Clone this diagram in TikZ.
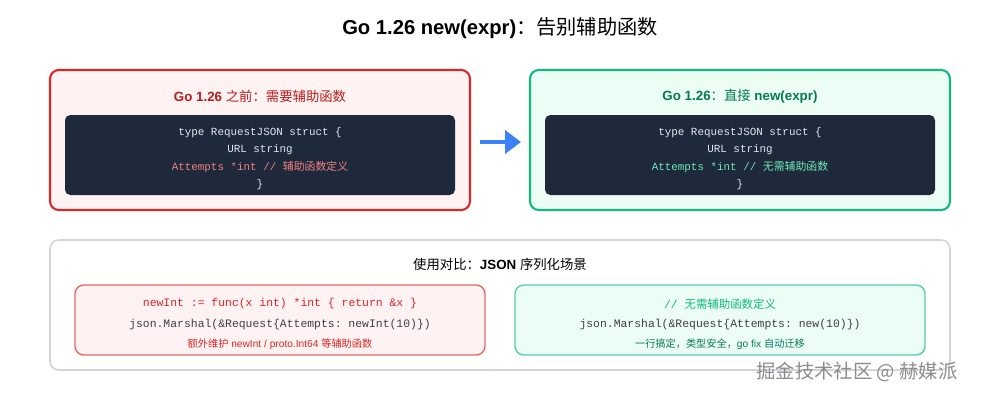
\documentclass[tikz,border=0pt]{standalone}
\usepackage{fontspec}
\setmainfont{Liberation Sans}
\setmonofont{Liberation Mono}
\newfontfamily\cjk{Noto Sans CJK SC}
\usepackage{xcolor}
\usetikzlibrary{positioning,arrows.meta}
\definecolor{redline}{HTML}{DC2626}
\definecolor{redfill}{HTML}{FEF2F2}
\definecolor{redtext}{HTML}{B91C1C}
\definecolor{redcode}{HTML}{F08080}
\definecolor{greenline}{HTML}{10B981}
\definecolor{greenfill}{HTML}{ECFDF5}
\definecolor{greentext}{HTML}{047857}
\definecolor{greencode}{HTML}{6EE7B7}
\definecolor{codebg}{HTML}{1E293B}
\definecolor{codefg}{HTML}{E2E8F0}
\definecolor{greyline}{HTML}{D1D5DB}
\definecolor{arrowblue}{HTML}{3B82F6}

\begin{document}
\begin{tikzpicture}[
		x=0.02cm, y=-0.02cm,
		panel/.style={draw, rounded corners=5pt, line width=1.2pt},
		codebox/.style={fill=codebg, rounded corners=3pt},
		codeline/.style={font=\ttfamily\fontsize{6.2}{7}\selectfont, color=codefg},
		usecode/.style={font=\ttfamily\fontsize{6.5}{7}\selectfont},
		heading/.style={font=\fontsize{7.6}{9}\selectfont\bfseries},
		small/.style={font=\fontsize{5.8}{7}\selectfont}
	]
	\useasboundingbox (0,0) rectangle (1000,400);
	
	% --- Titolo ---
	\node[font=\fontsize{11.5}{13}\selectfont\bfseries] (title) at (500,28) {Go 1.26 new(expr){\cjk\mdseries ：告别辅助函数}};
	
	% --- Prima ---
	\draw[panel, redline, fill=redfill] (50,70) rectangle (470,210);
	\node[heading, redtext] (oldhead) at (260,96) {Go 1.26 {\cjk\mdseries 之前：需要辅助函数}};
	\fill[codebox] (65,115) rectangle (455,195);
	\node[codeline] (old1) at (260,133) {type RequestJSON struct \{};
	\node[codeline] (old2) at (260,150) {URL string};
	\node[codeline, redcode] (old3) at (260,167) {Attempts *int // {\cjk 辅助函数定义}};
	\node[codeline] (old4) at (260,185) {\}};
	
	% --- Freccia ---
	\coordinate (arrA) at (480,142);
	\coordinate (arrB) at (521,142);
	\draw[-{Triangle[length=9pt,width=13pt]}, arrowblue, line width=2.2pt] (arrA) -- (arrB);
	
	% --- Dopo ---
	\draw[panel, greenline, fill=greenfill] (530,70) rectangle (950,210);
	\node[heading, greentext] (newhead) at (740,96) {Go 1.26{\cjk\mdseries ：直接} new(expr)};
	\fill[codebox] (545,115) rectangle (935,195);
	\node[codeline] (new1) at (740,133) {type RequestJSON struct \{};
	\node[codeline] (new2) at (740,150) {URL string};
	\node[codeline, greencode] (new3) at (740,167) {Attempts *int // {\cjk 无需辅助函数}};
	\node[codeline] (new4) at (740,185) {\}};
	
	% --- Confronto ---
	\draw[panel, greyline, fill=white, line width=0.9pt] (50,240) rectangle (950,370);
	\node[font=\fontsize{7.6}{9}\selectfont] (cmphead) at (500,264) {{\cjk 使用对比：}\textbf{JSON} {\cjk 序列化场景}};
	\draw[panel, redline!70, fill=redfill, line width=0.8pt] (75,285) rectangle (485,355);
	\node[usecode, redline] (use1) at (280,304) {newInt := func(x int) *int \{ return \&x \}};
	\node[usecode, black!75] (use2) at (280,325) {json.Marshal(\&Request\{Attempts: newInt(10)\})};
	\node[small, redline] (use3) at (280,344) {{\cjk 额外维护} newInt / proto.Int64 {\cjk 等辅助函数}};
	\draw[panel, greenline!70, fill=greenfill, line width=0.8pt] (515,285) rectangle (925,355);
	\node[usecode, greenline] (go1) at (720,304) {// {\cjk 无需辅助函数定义}};
	\node[usecode, black!75] (go2) at (720,325) {json.Marshal(\&Request\{Attempts: new(10)\})};
	\node[small, greentext] (go3) at (720,344) {{\cjk 一行搞定，类型安全，}go fix {\cjk 自动迁移}};
	
	% --- Watermark ---
	\node[font=\cjk\fontsize{11}{13}\selectfont, color=black!45] (mark) at (857,372) {掘金技术社区 @ 赫媒派};
\end{tikzpicture}
\end{document}
